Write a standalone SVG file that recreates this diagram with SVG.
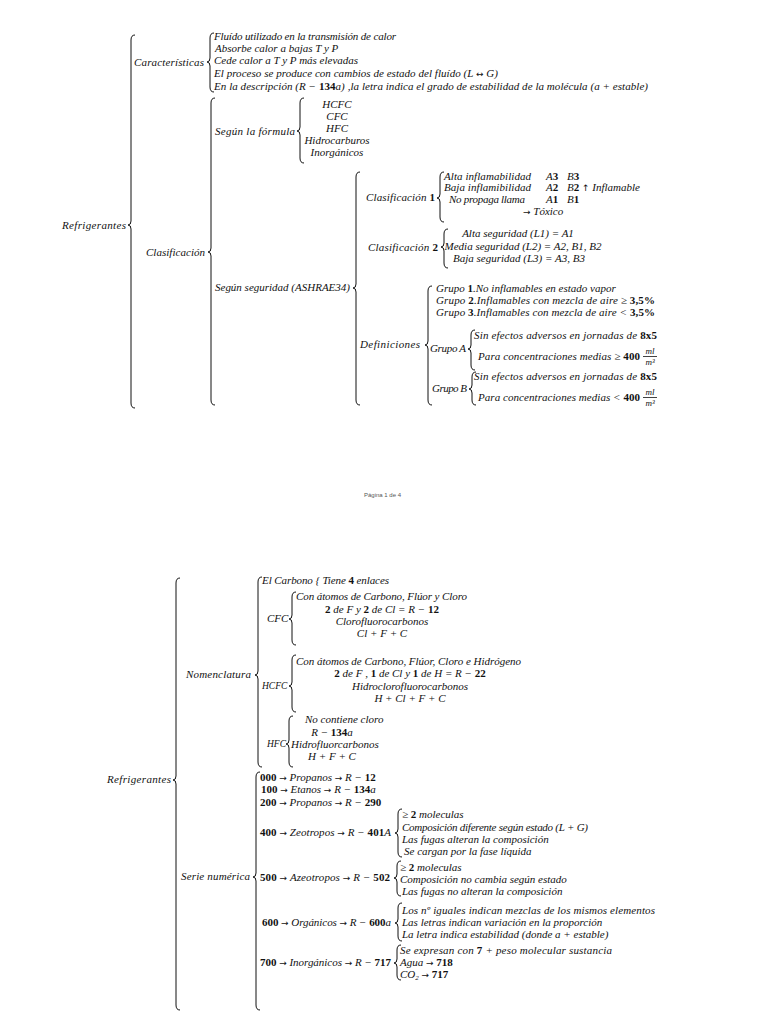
<svg xmlns="http://www.w3.org/2000/svg" width="768" height="1024" viewBox="0 0 768 1024">
<style>
text{font-family:"Liberation Serif",serif;font-style:italic;font-size:11px;fill:#111}
.n{font-style:normal;font-weight:bold}
.a{font-family:"DejaVu Sans",sans-serif;font-style:normal;font-size:9px}
.m{text-anchor:middle}
.s{font-size:9.5px}
.f{font-size:9px}
.sub{font-size:7px}
.br{fill:none;stroke:#111;stroke-width:1}
.pg{font-family:"Liberation Sans",sans-serif;font-style:normal;font-size:6px;fill:#555}
</style>
<rect width="768" height="1024" fill="#fff"/>
<g id="connectors">
<path class="br" d="M135 35 Q131 35 131 40 V221 Q131 225 128 225 Q131 225 131 229 V403 Q131 408 135 408"/>
<path class="br" d="M214 33 Q210 33 210 38 V58 Q210 62 207 62 Q210 62 210 66 V87 Q210 92 214 92"/>
<path class="br" d="M215 98 Q211 98 211 103 V248 Q211 252 208 252 Q211 252 211 256 V400 Q211 405 215 405"/>
<path class="br" d="M304 98 Q300 98 300 103 V127 Q300 131 297 131 Q300 131 300 135 V158 Q300 163 304 163"/>
<path class="br" d="M360 172 Q356 172 356 177 V284 Q356 288 353 288 Q356 288 356 292 V400 Q356 405 360 405"/>
<path class="br" d="M444 172 Q440 172 440 177 V194 Q440 198 437 198 Q440 198 440 202 V217 Q440 222 444 222"/>
<path class="br" d="M448 229 Q444 229 444 234 V243 Q444 247 441 247 Q444 247 444 251 V263 Q444 268 448 268"/>
<path class="br" d="M432 286 Q428 286 428 291 V341 Q428 345 425 345 Q428 345 428 349 V400 Q428 405 432 405"/>
<path class="br" d="M475 330 Q471 330 471 335 V345 Q471 349 468 349 Q471 349 471 353 V365 Q471 370 475 370"/>
<path class="br" d="M476 372 Q472 372 472 377 V385 Q472 389 469 389 Q472 389 472 393 V400 Q472 405 476 405"/>
<path class="br" d="M180 578 Q176 578 176 583 V776 Q176 780 173 780 Q176 780 176 784 V1005 Q176 1010 180 1010"/>
<path class="br" d="M262 577 Q258 577 258 582 V671 Q258 675 255 675 Q258 675 258 679 V762 Q258 767 262 767"/>
<path class="br" d="M296 592 Q292 592 292 597 V615 Q292 619 289 619 Q292 619 292 623 V640 Q292 645 296 645"/>
<path class="br" d="M296 655 Q292 655 292 660 V682 Q292 686 289 686 Q292 686 292 690 V707 Q292 712 296 712"/>
<path class="br" d="M293 716 Q289 716 289 721 V740 Q289 744 286 744 Q289 744 289 748 V762 Q289 767 293 767"/>
<path class="br" d="M260 772 Q256 772 256 777 V873 Q256 877 253 877 Q256 877 256 881 V1005 Q256 1010 260 1010"/>
<path class="br" d="M402 809 Q398 809 398 814 V829 Q398 833 395 833 Q398 833 398 837 V852 Q398 857 402 857"/>
<path class="br" d="M401 861 Q397 861 397 866 V874 Q397 878 394 878 Q397 878 397 882 V891 Q397 896 401 896"/>
<path class="br" d="M402 903 Q398 903 398 908 V919 Q398 923 395 923 Q398 923 398 927 V936 Q398 941 402 941"/>
<path class="br" d="M401 945 Q397 945 397 950 V959 Q397 963 394 963 Q397 963 397 967 V975 Q397 980 401 980"/>
<line x1="643" y1="356.5" x2="657" y2="356.5" stroke="#111" stroke-width="0.8"/>
<line x1="643" y1="397.5" x2="657" y2="397.5" stroke="#111" stroke-width="0.8"/>
</g>
<g id="refrigerantes1"><text x="62" y="229" textLength="64">Refrigerantes</text></g>
<g id="caracteristicas">
<text x="134" y="66" textLength="70">Características</text>
<text x="214" y="40" textLength="182">Fluído utilizado en la transmisión de calor</text>
<text x="215" y="52">Absorbe calor a bajas T y P</text>
<text x="214" y="64">Cede calor a T y P más elevadas</text>
<text x="214" y="77" textLength="284">El proceso se produce con cambios de estado del fluído (L <tspan class="a">↔</tspan> G)</text>
<text x="214" y="90" textLength="434">En la descripción (R − <tspan class="n">134</tspan>a) ,la letra indica el grado de estabilidad de la molécula (a + estable)</text>
</g>
<g id="clasificacion"><text x="146" y="256" textLength="59">Clasificación</text></g>
<g id="segun-formula">
<text x="215" y="135" textLength="80">Según la fórmula</text>
<text class="m" x="337" y="108">HCFC</text>
<text class="m" x="337" y="120">CFC</text>
<text class="m" x="337" y="132">HFC</text>
<text class="m" x="337" y="144">Hidrocarburos</text>
<text class="m" x="337" y="156">Inorgánicos</text>
</g>
<g id="segun-seguridad"><text x="215" y="291" textLength="135">Según seguridad (ASHRAE34)</text></g>
<g id="clasificacion1">
<text x="366" y="201" textLength="69">Clasificación <tspan class="n">1</tspan></text>
<text x="444" y="180" textLength="87">Alta inflamabilidad</text><text x="546" y="180">A<tspan class="n">3</tspan></text><text x="567" y="180">B<tspan class="n">3</tspan></text>
<text x="444" y="191" textLength="87">Baja inflamibilidad</text><text x="546" y="191">A<tspan class="n">2</tspan></text><text x="567" y="191">B<tspan class="n">2</tspan> <tspan class="a">↑</tspan> Inflamable</text>
<text x="449" y="203" textLength="76">No propaga llama</text><text x="546" y="203">A<tspan class="n">1</tspan></text><text x="567" y="203">B<tspan class="n">1</tspan></text>
<text x="523" y="215"><tspan class="a">→</tspan> Tóxico</text>
</g>
<g id="clasificacion2">
<text x="368" y="251" textLength="70">Clasificación <tspan class="n">2</tspan></text>
<text class="m" x="518" y="237">Alta seguridad (L1) = A1</text>
<text class="m" x="523" y="250">Media seguridad (L2) = A2, B1, B2</text>
<text class="m" x="519" y="262">Baja seguridad (L3) = A3, B3</text>
</g>
<g id="definiciones">
<text x="360" y="348" textLength="60">Definiciones</text>
<text x="436" y="292">Grupo <tspan class="n">1</tspan>.No inflamables en estado vapor</text>
<text x="436" y="304" textLength="219">Grupo <tspan class="n">2</tspan>.Inflamables con mezcla de aire  ≥ <tspan class="n">3,5%</tspan></text>
<text x="436" y="316" textLength="219">Grupo <tspan class="n">3</tspan>.Inflamables con mezcla de aire  &lt; <tspan class="n">3,5%</tspan></text>
</g>
<g id="grupo-a">
<text x="430" y="352" textLength="36">Grupo A</text>
<text x="474" y="339" textLength="183">Sin efectos adversos en jornadas de <tspan class="n">8x5</tspan></text>
<text x="478" y="360" textLength="162">Para concentraciones medias ≥ <tspan class="n">400</tspan></text>
<text class="m f" x="650" y="354">ml</text>
<text class="m f" x="650" y="365">m³</text>
</g>
<g id="grupo-b">
<text x="432" y="392" textLength="35">Grupo B</text>
<text x="474" y="380" textLength="183">Sin efectos adversos en jornadas de <tspan class="n">8x5</tspan></text>
<text x="478" y="401" textLength="162">Para concentraciones medias &lt; <tspan class="n">400</tspan></text>
<text class="m f" x="650" y="395">ml</text>
<text class="m f" x="650" y="406">m³</text>
</g>
<text class="pg" x="364" y="497">Página 1 de 4</text>
<g id="refrigerantes2"><text x="107" y="783" textLength="64">Refrigerantes</text></g>
<g id="nomenclatura">
<text x="186" y="678" textLength="65">Nomenclatura</text>
<text x="262" y="584" textLength="127">El Carbono { Tiene <tspan class="n">4</tspan> enlaces</text>
</g>
<g id="cfc">
<text x="267" y="622">CFC</text>
<text x="296" y="600" textLength="171">Con átomos de Carbono, Flúor y Cloro</text>
<text class="m" x="382" y="613"><tspan class="n">2</tspan> de F y <tspan class="n">2</tspan> de Cl = R − <tspan class="n">12</tspan></text>
<text class="m" x="382" y="625">Clorofluorocarbonos</text>
<text class="m" x="382" y="637">Cl + F + C</text>
</g>
<g id="hcfc">
<text class="s" x="262" y="689">HCFC</text>
<text x="296" y="665" textLength="225">Con átomos de Carbono, Flúor, Cloro e Hidrógeno</text>
<text class="m" x="410" y="677"><tspan class="n">2</tspan> de F , <tspan class="n">1</tspan> de Cl y <tspan class="n">1</tspan> de H = R − <tspan class="n">22</tspan></text>
<text class="m" x="410" y="690">Hidroclorofluorocarbonos</text>
<text class="m" x="410" y="702">H + Cl + F + C</text>
</g>
<g id="hfc">
<text class="s" x="267" y="747">HFC</text>
<text x="305" y="723">No contiene cloro</text>
<text class="m" x="332" y="736">R − <tspan class="n">134</tspan>a</text>
<text x="291" y="748">Hidrofluorcarbonos</text>
<text class="m" x="332" y="760">H + F + C</text>
</g>
<g id="serie-numerica">
<text x="181" y="880" textLength="69">Serie numérica</text>
<text x="260" y="781"><tspan class="n">000</tspan> <tspan class="a">→</tspan> Propanos <tspan class="a">→</tspan> R − <tspan class="n">12</tspan></text>
<text x="261" y="793"><tspan class="n">100</tspan> <tspan class="a">→</tspan> Etanos <tspan class="a">→</tspan> R − <tspan class="n">134</tspan>a</text>
<text x="260" y="806"><tspan class="n">200</tspan> <tspan class="a">→</tspan> Propanos <tspan class="a">→</tspan> R − <tspan class="n">290</tspan></text>
</g>
<g id="serie-400">
<text x="260" y="836" textLength="131"><tspan class="n">400</tspan> <tspan class="a">→</tspan> Zeotropos <tspan class="a">→</tspan> R − <tspan class="n">401</tspan>A</text>
<text x="402" y="818">≥ <tspan class="n">2</tspan> moleculas</text>
<text x="402" y="831" textLength="186">Composición diferente según estado (L + G)</text>
<text x="402" y="843">Las fugas alteran la composición</text>
<text x="404" y="855">Se cargan por la fase líquida</text>
</g>
<g id="serie-500">
<text x="260" y="881" textLength="130"><tspan class="n">500</tspan> <tspan class="a">→</tspan> Azeotropos <tspan class="a">→</tspan> R − <tspan class="n">502</tspan></text>
<text x="400" y="871">≥ <tspan class="n">2</tspan> moleculas</text>
<text x="400" y="883">Composición no cambia según estado</text>
<text x="402" y="895">Las fugas no alteran la composición</text>
</g>
<g id="serie-600">
<text x="262" y="926" textLength="129"><tspan class="n">600</tspan> <tspan class="a">→</tspan> Orgánicos <tspan class="a">→</tspan> R − <tspan class="n">600</tspan>a</text>
<text x="402" y="914" textLength="253">Los nº iguales indican mezclas de los mismos elementos</text>
<text x="402" y="926">Las letras indican variación en la proporción</text>
<text x="402" y="938">La letra indica estabilidad (donde a + estable)</text>
</g>
<g id="serie-700">
<text x="260" y="966" textLength="131"><tspan class="n">700</tspan> <tspan class="a">→</tspan> Inorgánicos <tspan class="a">→</tspan> R − <tspan class="n">717</tspan></text>
<text x="400" y="954" textLength="212">Se expresan con <tspan class="n">7</tspan> +  peso molecular sustancia</text>
<text x="400" y="966">Agua <tspan class="a">→</tspan> <tspan class="n">718</tspan></text>
<text x="400" y="978">CO<tspan class="sub" dy="2">2</tspan><tspan dy="-2"> </tspan><tspan class="a">→</tspan> <tspan class="n">717</tspan></text>
</g>
</svg>
